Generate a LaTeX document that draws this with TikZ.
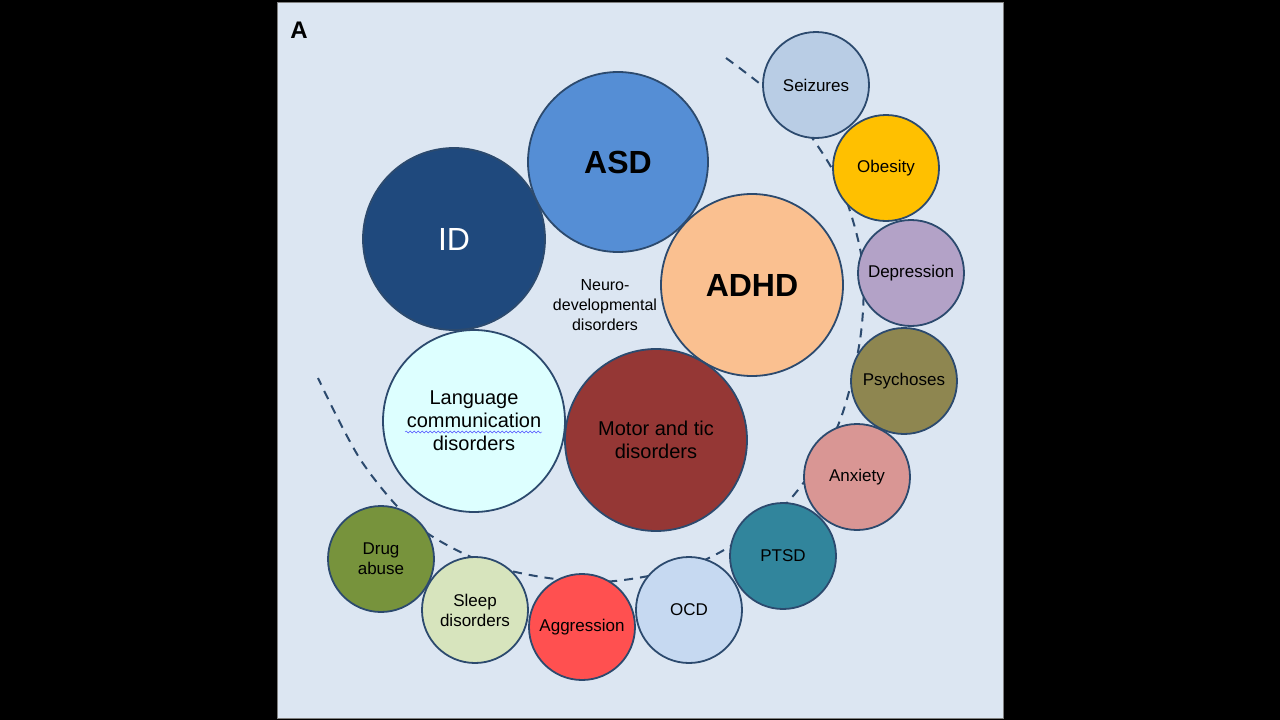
\documentclass[tikz,border=0pt]{standalone}
\usepackage{fontspec}
\setmainfont{Liberation Sans}
\usetikzlibrary{decorations.pathmorphing}
\definecolor{edge}{HTML}{2C4A6E}
\definecolor{panel}{HTML}{DCE6F2}
\definecolor{cid}{HTML}{1F497D}
\definecolor{casd}{HTML}{558ED5}
\definecolor{cadhd}{HTML}{FAC090}
\definecolor{clang}{HTML}{DDFFFF}
\definecolor{cmotor}{HTML}{953735}
\definecolor{c1}{HTML}{B9CDE5}
\definecolor{c2}{HTML}{FFC000}
\definecolor{c3}{HTML}{B3A2C7}
\definecolor{c4}{HTML}{8E8650}
\definecolor{c5}{HTML}{D99694}
\definecolor{c6}{HTML}{31859C}
\definecolor{c7}{HTML}{C6D9F1}
\definecolor{c8}{HTML}{FF5050}
\definecolor{c9}{HTML}{D7E4BD}
\definecolor{c10}{HTML}{77933C}
\begin{document}
\begin{tikzpicture}[x=1pt,y=-1pt,
  big/.style={circle,draw=edge,line width=1.8pt,minimum size=182pt,inner sep=0pt,align=center,font=\fontsize{20}{23}\selectfont},
  sm/.style={circle,draw=edge,line width=1.8pt,minimum size=106pt,inner sep=0pt,align=center,font=\fontsize{17}{20}\selectfont}]
\fill[black] (0,0) rectangle (1280,720);
\fill[panel,draw=gray] (277,2) rectangle (1003,718);
\node[font=\bfseries\fontsize{24}{28}\selectfont] (A) at (299,30) {A};
\draw[edge,line width=2pt,dash pattern=on 9pt off 7pt] plot[smooth] coordinates {(726,58)(790,110)(838,180)(862,260)(860,340)(836,430)(782,508)(700,562)(600,582)(500,568)(420,528)(362,462)(318,378)};
\node[big,fill=cid,text=white,font=\fontsize{32}{36}\selectfont] (id) at (454,239) {ID};
\node[big,fill=casd,font=\bfseries\fontsize{32}{36}\selectfont,minimum size=180pt] (asd) at (618,162) {ASD};
\node[big,fill=cadhd,font=\bfseries\fontsize{32}{36}\selectfont] (adhd) at (752,285) {ADHD};
\node[big,fill=clang] (lang) at (474,421) {Language\\communication\\disorders};
\draw[blue!70,decorate,decoration={snake,amplitude=1pt,segment length=4pt}] (405,432) -- (542,432);
\node[big,fill=cmotor] (motor) at (656,440) {Motor and tic\\disorders};
\node[align=center,font=\fontsize{16}{20}\selectfont] (nd) at (605,305) {Neuro-\\developmental\\disorders};
\node[sm,fill=c1] (s1) at (816,85) {Seizures};
\node[sm,fill=c2] (s2) at (886,168) {Obesity};
\node[sm,fill=c3] (s3) at (911,273) {Depression};
\node[sm,fill=c4] (s4) at (904,381) {Psychoses};
\node[sm,fill=c5] (s5) at (857,477) {Anxiety};
\node[sm,fill=c6] (s6) at (783,556) {PTSD};
\node[sm,fill=c7] (s7) at (689,610) {OCD};
\node[sm,fill=c9] (s9) at (475,610) {Sleep\\disorders};
\node[sm,fill=c8] (s8) at (582,627) {Aggression};
\node[sm,fill=c10] (s10) at (381,559) {Drug\\abuse};
\end{tikzpicture}
\end{document}
